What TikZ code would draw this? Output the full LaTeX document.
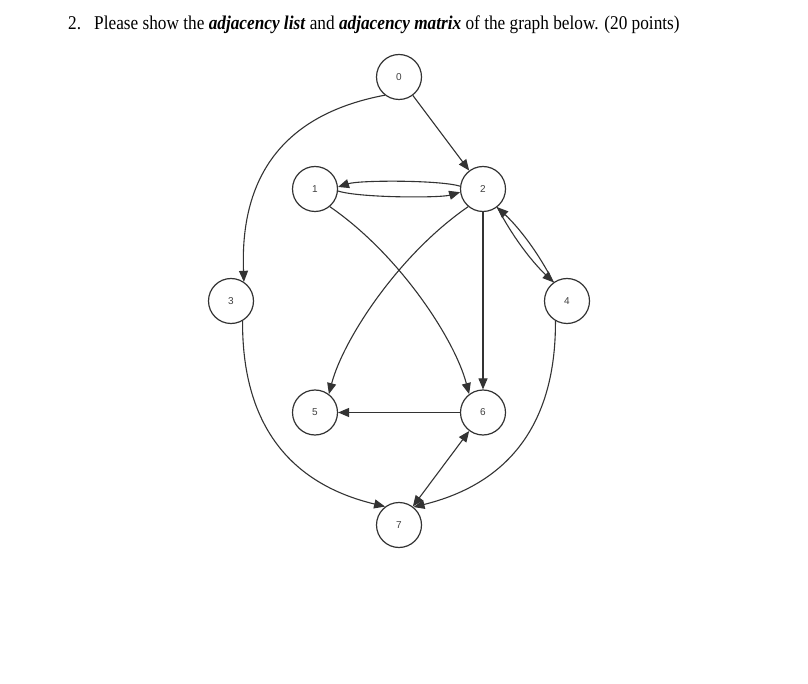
\documentclass[tikz,border=0pt]{standalone}
\usepackage{fontspec}
\setmainfont{Liberation Serif}
\newfontfamily\titlefont[FakeStretch=0.885]{Liberation Serif}
\newfontfamily\labelfont{Liberation Sans}
\usetikzlibrary{arrows.meta}
\definecolor{edgecol}{HTML}{333333}
\tikzset{
  vtx/.style={circle, draw=edgecol, line width=1.2pt, minimum size=45pt, inner sep=0pt,
    font=\labelfont\fontsize{10}{11}\selectfont, text=black!75, fill=white},
  tipshape/.style={},
  edge/.style={draw=edgecol, line width=1.1pt, -{Triangle[length=11pt,width=9pt]}},
  bothedge/.style={draw=edgecol, line width=1.1pt, {Triangle[length=11pt,width=9pt]}-{Triangle[length=11pt,width=9pt]}},
  titletext/.style={anchor=base west, inner sep=0pt, font=\titlefont\fontsize{19.5}{22}\selectfont}
}
\begin{document}
\begin{tikzpicture}[x=1pt,y=-1pt]
\fill[white] (0,0) rectangle (808,684);
\useasboundingbox (0,0) rectangle (808,684);
\node[titletext] (num) at (68,30) {2.};
\node[titletext] (title) at (94,30) {Please show the \textbf{\textit{adjacency list}} and \textbf{\textit{adjacency matrix}} of the graph below. (20 points)};

\node[vtx] (n0) at (399,77) {0};
\node[vtx] (n1) at (315,189) {1};
\node[vtx] (n2) at (483,189) {2};
\node[vtx] (n3) at (231,301) {3};
\node[vtx] (n4) at (567,301) {4};
\node[vtx] (n5) at (315,412.5) {5};
\node[vtx] (n6) at (483,412.5) {6};
\node[vtx] (n7) at (399,525) {7};

\draw[edge] (n0) -- (n2);
\draw[edge] (n0.232) .. controls (280,115) and (240,180) .. (n3.56);
\draw[edge] (n2.173) .. controls (440,180) and (360,180) .. (n1.5);
\draw[edge] (n1.-5) .. controls (360,198) and (440,198) .. (n2.188);
\draw[edge] (n1.-50) .. controls (400,255) and (455,340) .. (n6.127);
\draw[edge] (n2.230) .. controls (398,255) and (343,340) .. (n5.53);
\draw[edge] (n2) -- (n6);
\draw[edge] (n2.-52) .. controls (511.8,235.3) and (530.4,260.1) .. (n4.126);
\draw[edge] (n4.126) .. controls (538.8,253.7) and (520.2,228.9) .. (n2.-52);
\draw[edge] (n6) -- (n5);
\draw[bothedge] (n7) -- (n6);
\draw[edge] (n3.-60) .. controls (242,430) and (295,485) .. (n7.127);
\draw[edge] (n4.-120) .. controls (556,430) and (503,485) .. (n7.51);
\end{tikzpicture}
\end{document}
